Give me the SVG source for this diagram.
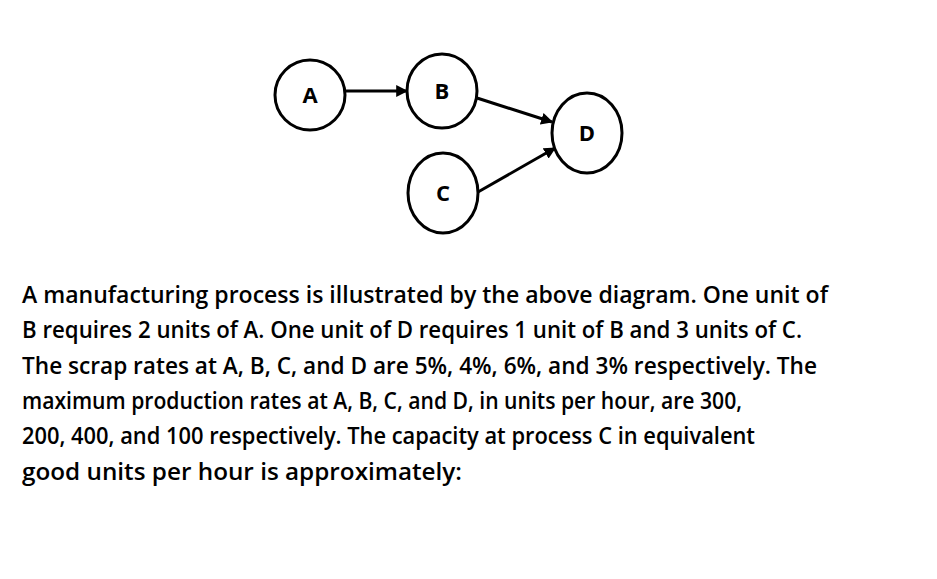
<svg xmlns="http://www.w3.org/2000/svg" width="937" height="579" viewBox="0 0 937 579">
<style>
.n{fill:#fff;stroke:#000;stroke-width:3}
.l{font-family:"Open Sans","Liberation Sans",sans-serif;font-weight:bold;font-size:22px;text-anchor:middle}
.c{stroke:#000;stroke-width:3;fill:none;marker-end:url(#ah)}
.t{font-family:"Open Sans","Liberation Sans",sans-serif;font-weight:600;font-size:23px;fill:#000}
</style>
<defs><marker id="ah" viewBox="0 0 10 10" refX="9" refY="5" markerWidth="4" markerHeight="4" orient="auto"><path d="M0,0L10,5L0,10z"/></marker></defs>
<rect width="937" height="579" fill="#fff"/>
<g id="connectors">
<line class="c" x1="346" y1="91" x2="407" y2="91"/>
<line class="c" x1="477" y1="98" x2="552" y2="122"/>
<line class="c" x1="478" y1="192" x2="555" y2="148"/>
</g>
<g id="A"><ellipse class="n" cx="310" cy="95" rx="35" ry="35"/><text class="l" x="310" y="103">A</text></g>
<g id="B"><ellipse class="n" cx="442" cy="91" rx="35" ry="37"/><text class="l" x="442" y="99">B</text></g>
<g id="C"><ellipse class="n" cx="443" cy="193" rx="35" ry="40"/><text class="l" x="443" y="201">C</text></g>
<g id="D"><ellipse class="n" cx="587" cy="133" rx="35" ry="40"/><text class="l" x="587" y="141">D</text></g>
<g id="text">
<text class="t" x="22" y="303" textLength="806" lengthAdjust="spacingAndGlyphs">A manufacturing process is illustrated by the above diagram.  One unit of</text>
<text class="t" x="22" y="338" textLength="780" lengthAdjust="spacingAndGlyphs">B requires 2 units of A.  One unit of D requires 1 unit of B and 3 units of C.</text>
<text class="t" x="22" y="374" textLength="795" lengthAdjust="spacingAndGlyphs">The scrap rates at A, B, C, and D are 5%, 4%, 6%, and 3% respectively.  The</text>
<text class="t" x="22" y="409" textLength="720" lengthAdjust="spacingAndGlyphs">maximum production rates at A, B, C, and D, in units per hour, are 300,</text>
<text class="t" x="22" y="444" textLength="733" lengthAdjust="spacingAndGlyphs">200, 400, and 100 respectively.  The capacity at process C in equivalent</text>
<text class="t" x="22" y="480" textLength="440" lengthAdjust="spacingAndGlyphs">good units per hour is approximately:</text>
</g>
</svg>
